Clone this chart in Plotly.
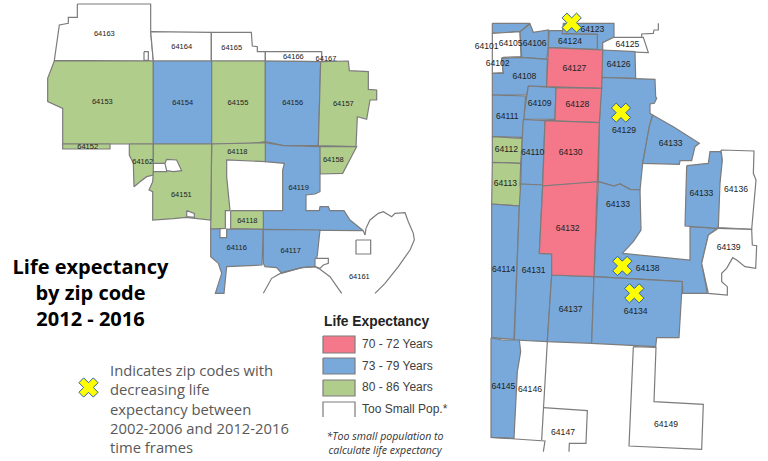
import plotly.graph_objects as go

RED = "#f4788a"; BLUE = "#78a9da"; GREEN = "#b1cd8c"; WHITE = "#ffffff"
EDGE = "#7c7c7c"

# ---- Left map geometry (source units: 1/3 px) : (name, class, outline)
left_zones = [
 ("64163", WHITE, [(232,12),(452,12),(452,95),(460,183),(163,181),(178,75),(205,70),(205,52),(232,52)]),
 ("64164", WHITE, [(452,95),(634,97),(634,183),(460,183)]),
 ("64165", WHITE, [(634,97),(754,97),(757,138),(772,140),(772,155),(796,155),(796,183),(634,183)]),
 ("64166", WHITE, [(796,155),(965,155),(965,185),(796,183)]),
 ("hole", WHITE, [(432,155),(445,155),(445,181),(432,181)]),
 ("64153", GREEN, [(163,183),(460,183),(460,432),(188,432),(188,325),(143,305),(143,235)]),
 ("64152", GREEN, [(188,432),(330,432),(330,447),(188,447)]),
 ("64162", GREEN, [(388,432),(460,432),(460,525),(440,530),(420,545),(402,560),(400,490),(388,465)]),
 ("64154", BLUE, [(460,183),(635,183),(635,432),(460,432)]),
 ("64155", GREEN, [(635,183),(796,183),(796,425),(760,430),(635,432)]),
 ("64156", BLUE, [(796,183),(962,185),(955,437),(850,437),(796,425)]),
 ("64157", GREEN, [(962,185),(1010,185),(1045,183),(1048,212),(1105,215),(1105,268),(1130,270),(1130,300),(1110,300),(1100,358),(1072,350),(1068,440),(955,437)]),
 ("64158", GREEN, [(958,440),(1070,440),(1028,520),(960,522)]),
 ("64119", BLUE, [(796,428),(850,437),(960,440),(960,575),(945,582),(918,585),(918,632),(958,632),(960,620),(985,620),(990,632),(1032,632),(1050,660),(1090,692),(790,690),(790,632),(848,632),(848,510),(853,490),(796,485)]),
 ("64118", GREEN, [(635,432),(796,428),(796,485),(680,480),(680,530),(690,632),(676,632),(676,685),(632,687)]),
 ("64118b", GREEN, [(692,632),(790,632),(790,688),(692,686)]),
 ("64151", GREEN, [(460,432),(635,432),(632,660),(600,657),(585,655),(558,652),(520,656),(458,660),(458,575),(447,570),(458,545),(460,515),(500,515),(500,490),(460,490)]),
 ("hole", WHITE, [(495,490),(500,478),(530,480),(545,512),(520,515),(500,512)]),
 ("hole", WHITE, [(560,632),(583,640),(583,652),(560,650)]),
 ("64116", BLUE, [(632,687),(660,687),(660,713),(680,713),(680,687),(790,688),(786,795),(710,800),(680,800),(672,880),(646,880),(665,820),(655,790),(632,770)]),
 ("64117", BLUE, [(790,688),(960,690),(952,765),(945,800),(905,803),(845,820),(830,803),(795,800),(790,790)]),
 ("hole", WHITE, [(945,775),(985,775),(985,790),(970,795),(960,805),(945,800)]),
 ("square", WHITE, [(1068,720),(1112,720),(1112,762),(1068,762)]),
]
left_lines = [
 [(790,880),(815,835),(845,818),(905,803),(945,800),(960,808),(990,830),(1010,860),(1025,880)],
 [(1095,705),(1098,685),(1110,660),(1135,640),(1150,635),(1175,650),(1185,640),(1215,638),(1225,665),(1240,700),(1243,720),(1230,750),(1195,800),(1155,850),(1125,880)],
 [(1090,692),(1095,705)],
 [(965,185),(1010,183)],
]
left_labels = ["64163","64164","64165","64166","64167","64153","64154","64155","64156","64157","64152","64162","64118","64158","64119","64151","64118","64116","64117","64161"]
left_label_x = [313,545,695,880,978,307,548,714,878,1030,263,428,712,1000,896,544,742,710,872,1078]
left_label_y = [103,141,143,171,178,307,309,309,310,313,440,485,457,479,565,585,662,745,752,830]

# ---- Right map geometry (source units: 1/3 px, origin x=460)
right_zones = [
 ("nw", BLUE, [(97,70),(210,70),(180,95),(97,100)]),
 ("64101", WHITE, [(97,100),(180,95),(183,170),(130,172),(125,175),(130,218),(97,220)]),
 ("64106", BLUE, [(180,95),(210,72),(220,97),(265,90),(265,145),(260,178),(185,172)]),
 ("64123", BLUE, [(310,70),(462,70),(462,112),(428,128),(428,150),(412,150),(412,103),(307,100)]),
 ("64124", BLUE, [(267,92),(307,92),(307,102),(412,103),(412,148),(265,143)]),
 ("64125", WHITE, [(428,150),(428,128),(462,112),(550,112),(565,158),(428,153)]),
 ("64126", BLUE, [(428,150),(525,155),(527,235),(425,232)]),
 ("64108", BLUE, [(97,220),(130,220),(125,175),(185,172),(262,178),(260,260),(205,258),(200,285),(97,285)]),
 ("64109", BLUE, [(205,258),(288,263),(285,358),(190,357)]),
 ("64111", BLUE, [(97,285),(197,288),(187,412),(97,410)]),
 ("64112", GREEN, [(97,410),(187,415),(182,490),(97,487)]),
 ("64113", GREEN, [(97,487),(182,490),(180,555),(187,600),(178,618),(95,612)]),
 ("64110", BLUE, [(190,358),(255,362),(248,555),(182,552),(187,412)]),
 ("64129", BLUE, [(425,232),(527,237),(585,238),(587,290),(590,295),(583,310),(570,312),(570,340),(578,345),(568,380),(548,490),(540,570),(510,568),(480,552),(462,558),(415,545),(418,368)]),
 ("64133", BLUE, [(578,345),(640,380),(718,430),(705,440),(695,482),(660,482),(658,493),(548,490),(568,380)]),
 ("64138", BLUE, [(415,545),(462,558),(480,552),(510,568),(540,570),(543,690),(520,725),(487,760),(690,780),(690,680),(772,685),(745,705),(725,790),(742,880),(668,880),(667,845),(402,830),(410,665)]),
 ("64133c", BLUE, [(680,497),(745,490),(750,455),(783,455),(787,480),(775,685),(675,678)]),
 ("64136", WHITE, [(783,450),(882,453),(880,520),(888,540),(875,688),(775,683),(780,550),(787,480)]),
 ("64139", WHITE, [(775,685),(875,688),(877,735),(890,737),(887,805),(855,800),(830,780),(818,773),(800,805),(785,820),(785,845),(802,860),(802,885),(745,880),(725,790),(745,705)]),
 ("64114", BLUE, [(95,612),(178,618),(162,1018),(95,1013)]),
 ("64131", BLUE, [(182,552),(248,555),(240,720),(238,760),(275,762),(275,825),(262,1025),(163,1020),(178,618)]),
 ("64137", BLUE, [(275,825),(402,830),(395,1030),(262,1025)]),
 ("64134", BLUE, [(402,830),(667,845),(657,1013),(590,1013),(587,1040),(395,1030)]),
 ("64145", BLUE, [(93,1013),(125,1020),(178,1020),(182,1055),(172,1115),(162,1315),(93,1312)]),
 ("64127", RED, [(265,143),(428,150),(425,265),(260,260)]),
 ("64128", RED, [(288,263),(425,265),(418,368),(255,362),(285,360)]),
 ("64130", RED, [(255,362),(418,368),(412,545),(370,555),(330,552),(248,558)]),
 ("64132", RED, [(248,558),(330,552),(412,545),(402,830),(275,825),(275,762),(238,760)]),
 ("64149", WHITE, [(520,1040),(588,1042),(582,1205),(730,1213),(725,1348),(507,1338)]),
]
right_lines = [
 [(545,112),(545,102),(580,100),(582,90),(595,90),(595,70)],
 [(262,1025),(250,1223),(245,1320)],
 [(93,1312),(255,1323),(250,1355)],
 [(250,1223),(382,1232),(378,1330),(328,1330),(327,1355)],
]
right_labels = ["64123","64124","64125","64101","64105","64106","64102","64126","64127","64108","64109","64128","64111","64129","64133","64112","64110","64130","64113","64133","64133","64136","64132","64139","64114","64131","64138","64137","64134","64145","64146","64147","64149"]
right_label_x = [397,330,502,80,152,224,113,476,343,193,239,352,142,492,632,139,218,332,136,474,724,828,323,806,131,221,563,332,527,130,210,309,618]
right_label_y = [91,127,135,141,133,133,191,195,206,232,313,316,351,394,432,451,459,460,552,614,582,570,688,745,810,813,808,930,935,1162,1170,1299,1275]

# Yellow X flags
flag_x = [571.7,621,622.3,634.3,88.5]
flag_y = [22.7,112.7,266,293.3,387.5]

# Legend content
legend_names = ["70 - 72 Years","73 - 79 Years","80 - 86 Years","Too Small Pop.*"]
legend_colors = [RED,BLUE,GREEN]
title_lines = ["Life expectancy","by zip code","2012 - 2016"]
note_lines = ["Indicates zip codes with","decreasing life","expectancy between","2002-2006 and 2012-2016","time frames"]
foot_lines = ["*Too small population to","calculate life expectancy"]

L = lambda p: (p[0]/3, p[1]/3)
R = lambda p: (460+p[0]/3, p[1]/3)

fig = go.Figure()
def poly(pts, fill, w=1.2):
    xs = [p[0] for p in pts]+[pts[0][0]]
    ys = [p[1] for p in pts]+[pts[0][1]]
    fig.add_trace(go.Scatter(x=xs,y=ys,mode="lines",fill="toself",fillcolor=fill,
        line=dict(color=EDGE,width=w),hoverinfo="skip",showlegend=False))
def line(pts):
    fig.add_trace(go.Scatter(x=[p[0] for p in pts],y=[p[1] for p in pts],mode="lines",
        line=dict(color=EDGE,width=1.2),hoverinfo="skip",showlegend=False))
def text(xs,ys,ts,size,color="#222222",family="Liberation Sans",pos="middle center"):
    fig.add_trace(go.Scatter(x=xs,y=ys,text=ts,mode="text",textposition=pos,
        textfont=dict(size=size,color=color,family=family),hoverinfo="skip",showlegend=False))

for _,c,o in left_zones: poly([L(p) for p in o],c)
for o in left_lines: line([L(p) for p in o])
for _,c,o in right_zones: poly([R(p) for p in o],c)
for o in right_lines: line([R(p) for p in o])
text([x/3 for x in left_label_x],[y/3 for y in left_label_y],left_labels,7.5)
text([460+x/3 for x in right_label_x],[y/3 for y in right_label_y],right_labels,8.6)

fig.add_trace(go.Scatter(x=flag_x,y=flag_y,mode="markers",hoverinfo="skip",showlegend=False,
    marker=dict(symbol="x",size=17,color="#ffff00",line=dict(color="#2f5f9f",width=1))))

# Title & note text (one multi-line text each)
text([90.5],[295],["<b>"+"<br>".join(title_lines)+"</b>"],20,"#000000","Open Sans")
text([110],[411],["<br>".join(note_lines)],14.8,"#595959","Open Sans","middle right")
# Legend
text([324],[323],["<b>Life Expectancy</b>"],13.8,"#222222","Liberation Sans","middle right")
for i,(y0,y1) in enumerate([(336,353),(358,374),(380,396)]):
    poly([(323,y0),(355,y0),(355,y1),(323,y1)],legend_colors[i])
line([(323,417),(323,402),(355,402),(355,417)])
text([362]*4,[345,367,388,410],legend_names,12,"#404040","Liberation Sans","middle right")
text([385],[444.5],["<i>"+"<br>".join(foot_lines)+"</i>"],10.6,"#333333","Open Sans")

fig.update_layout(width=768,height=461,margin=dict(l=0,r=0,t=0,b=0),
    paper_bgcolor="white",plot_bgcolor="white",showlegend=False,
    xaxis=dict(range=[0,768],visible=False,fixedrange=True),
    yaxis=dict(range=[461,0],visible=False,fixedrange=True))
fig.write_html("out.html",config={"displayModeBar":False},
    post_script="document.body.style.margin='0';")
